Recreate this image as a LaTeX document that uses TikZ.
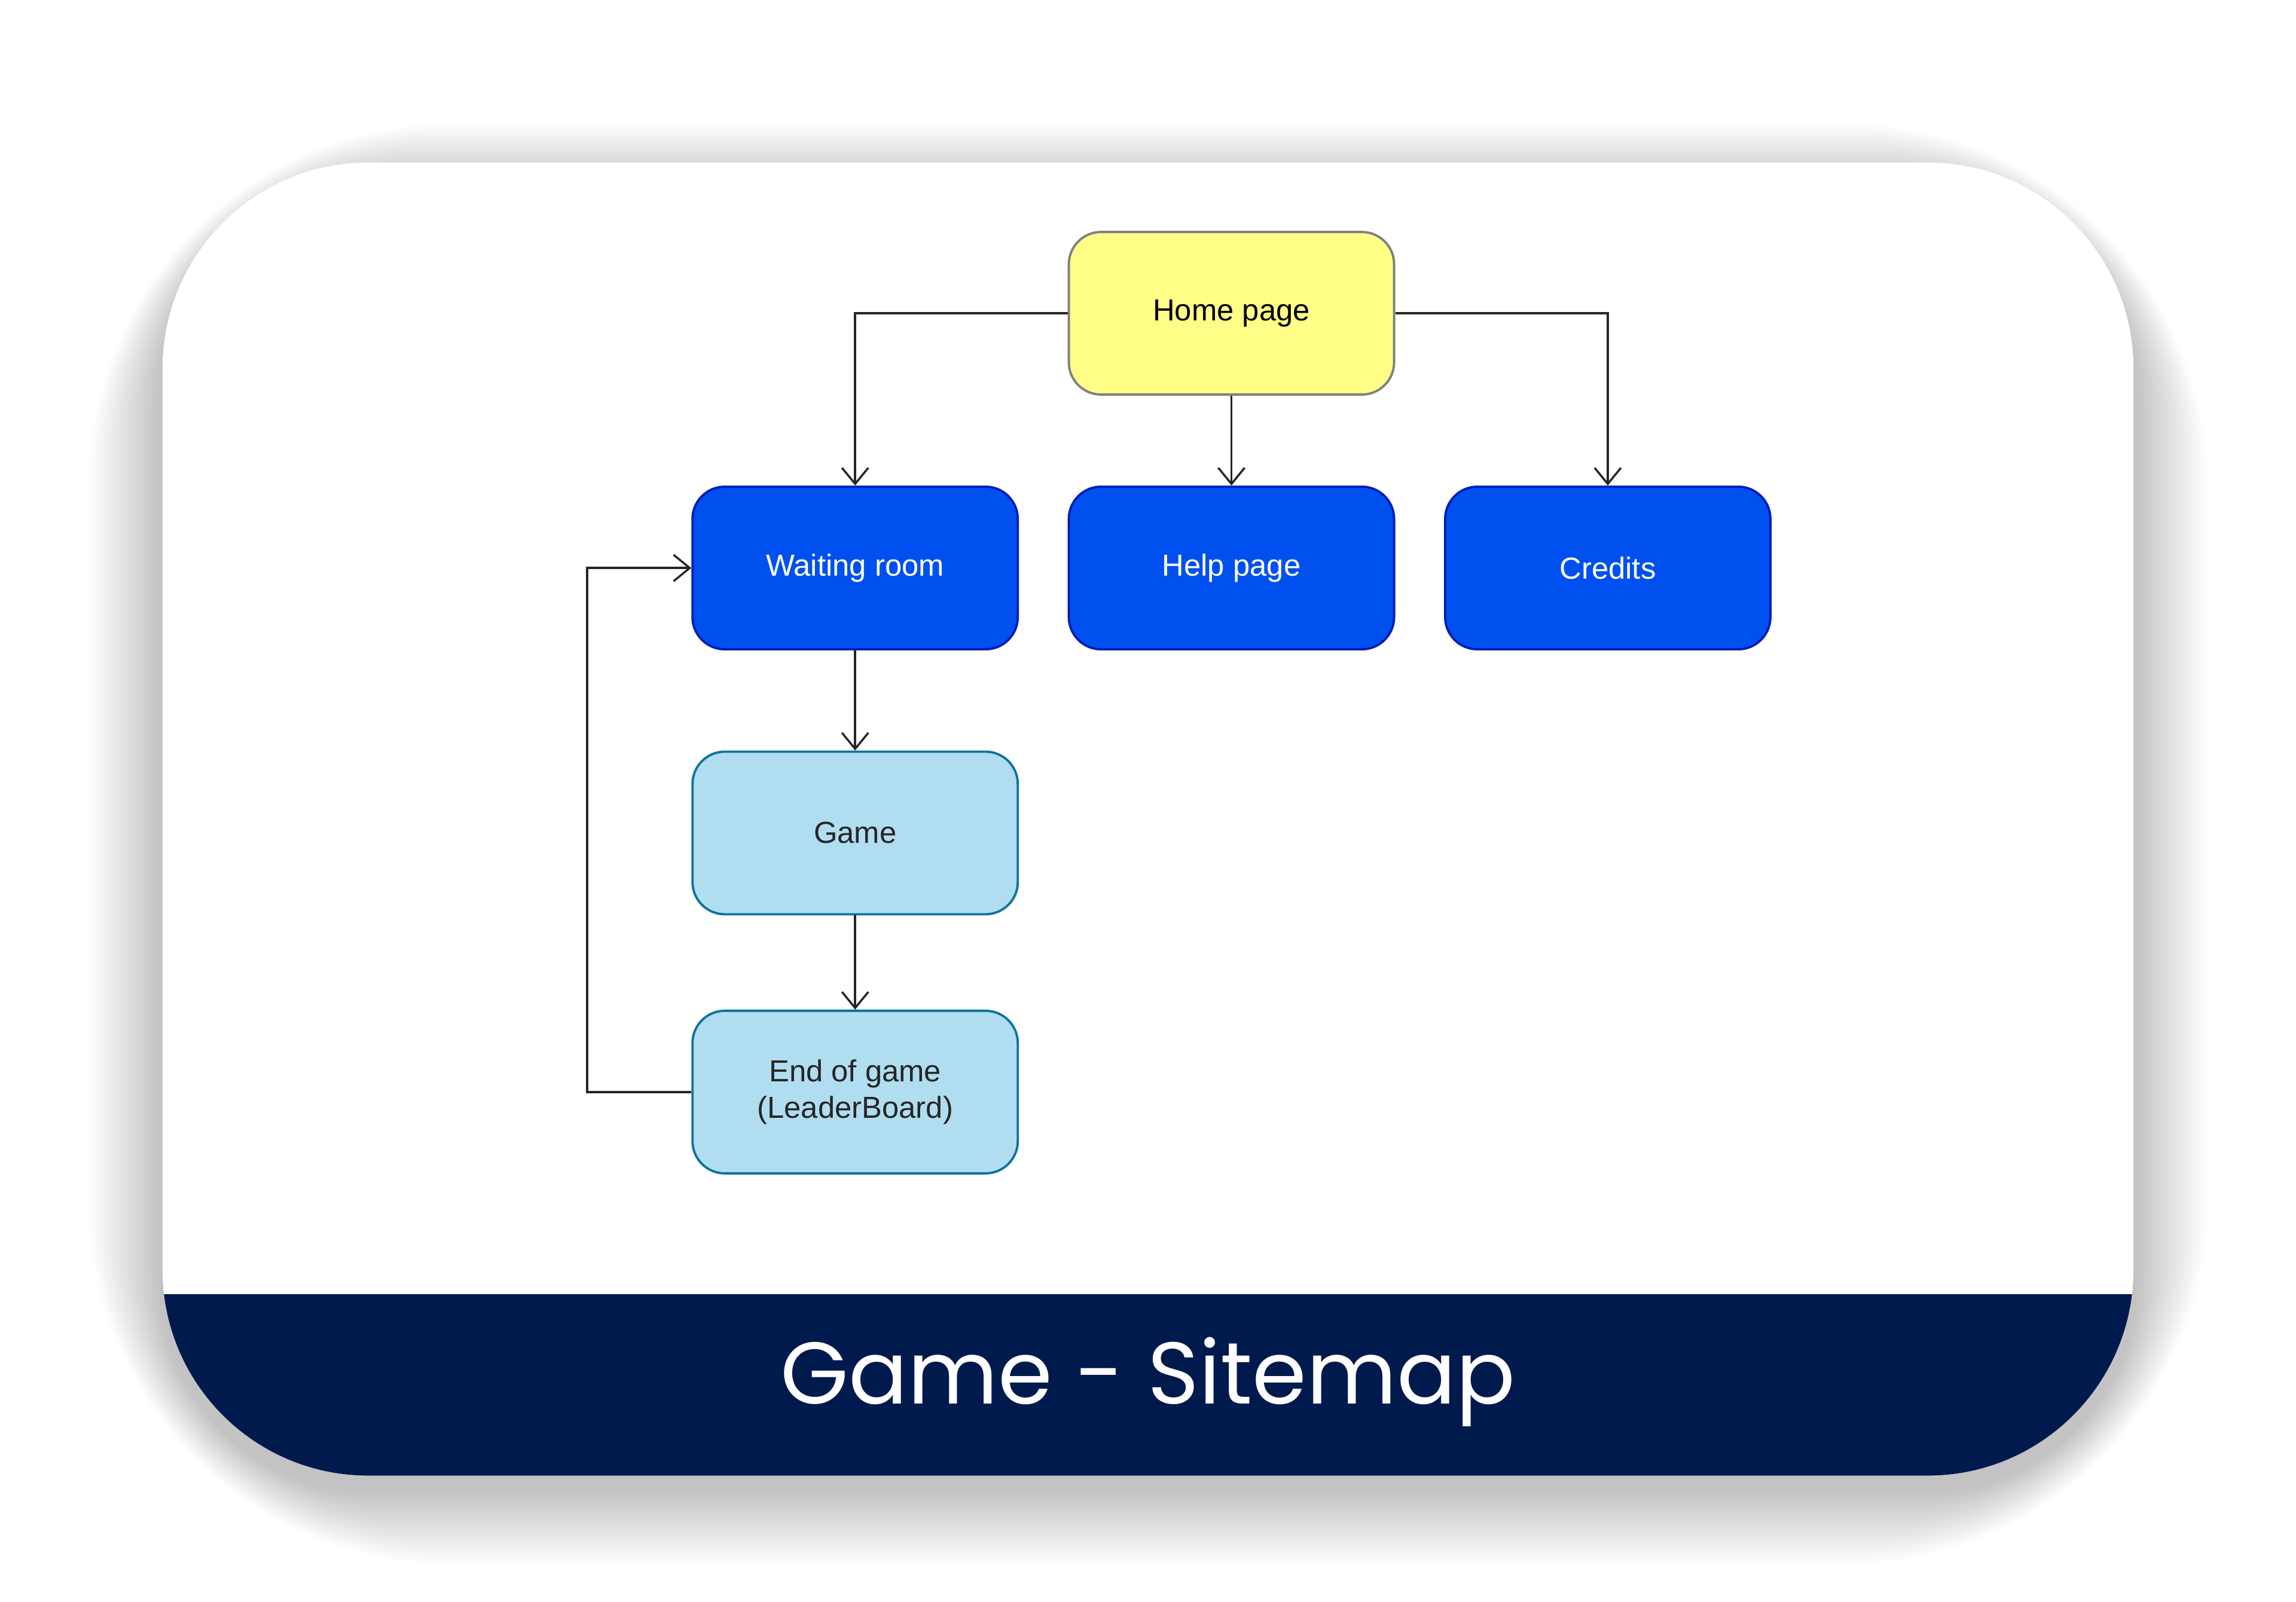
\documentclass[tikz,border=0pt]{standalone}
\usepackage{fontspec}
\setmainfont{Liberation Sans}
\newfontfamily\titlefont{Poppins}
\usetikzlibrary{arrows.meta}
\definecolor{navy}{HTML}{001A4D}
\definecolor{yel}{HTML}{FFFF88}
\definecolor{blu}{HTML}{0050EF}
\definecolor{blub}{HTML}{001DBC}
\definecolor{lbl}{HTML}{B1DDF0}
\definecolor{lblb}{HTML}{10739E}
\begin{document}
\begin{tikzpicture}[x=0.01cm,y=-0.01cm,
  box/.style={rounded corners=2.2mm,minimum width=2.22cm,minimum height=1.11cm,line width=0.45pt,font=\fontsize{5.9}{7}\selectfont,align=center},
  ybox/.style={box,fill=yel,draw=gray},
  bbox/.style={box,fill=blu,draw=blub,text=white},
  lbox/.style={box,fill=lbl,draw=lblb,text=black!85},
  arr/.style={draw=black!85,line width=0.4pt,-{Straight Barb[length=1.1mm,width=1.8mm]}}]
\useasboundingbox (0,0) rectangle (1568,1094);
\fill[white] (0,0) rectangle (1568,1094);
% shadow
\foreach \i in {1,...,20}{
  \fill[black,opacity=0.012,rounded corners=40+\i*1.5] (111-\i*2.5,111-\i*2.2+18) rectangle (1457+\i*2.5,1008+\i*2.5+10);
}
\fill[white,rounded corners=40] (111,111) rectangle (1457,1008);
\begin{scope}
\clip[rounded corners=40] (111,111) rectangle (1457,1008);
\fill[navy] (111,884) rectangle (1457,1010);
\end{scope}
\node[text=white,font=\titlefont\fontsize{17}{20}\selectfont] (title) at (784,944) {Game - Sitemap};
\node[ybox] (home) at (841,214) {Home page};
\node[bbox] (wait) at (584,388) {Waiting room};
\node[bbox] (help) at (841,388) {Help page};
\node[bbox] (cred) at (1098,388) {Credits};
\node[lbox] (game) at (584,569) {Game};
\node[lbox] (end) at (584,746) {End of game\\(LeaderBoard)};
\draw[arr] (home.west) -| (wait.north);
\draw[arr] (home.east) -| (cred.north);
\draw[arr] (home) -- (help);
\draw[arr] (wait) -- (game);
\draw[arr] (game) -- (end);
\coordinate (c1) at (401,746);
\coordinate (c2) at (401,388);
\draw[arr] (end.west) -- (c1) -- (c2) -- (wait.west);
\end{tikzpicture}
\end{document}
